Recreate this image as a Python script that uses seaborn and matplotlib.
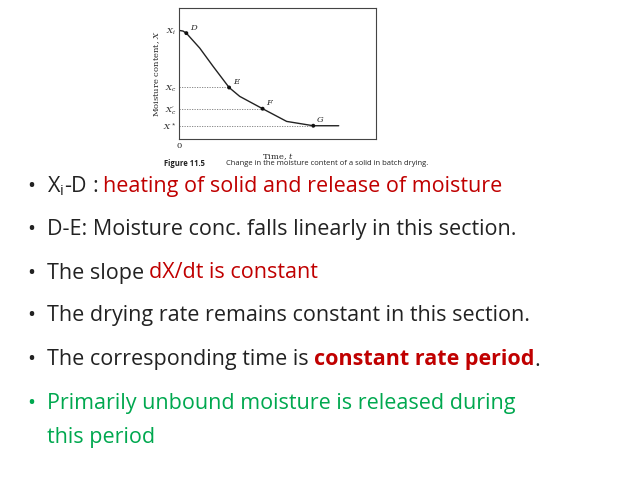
import matplotlib
matplotlib.use("Agg")
import matplotlib.pyplot as plt
import seaborn as sns
import pandas as pd

sns.set_style("white")
plt.rcParams['font.family'] = ['Open Sans', 'DejaVu Sans']
plt.rcParams['mathtext.fontset'] = 'custom'
plt.rcParams['mathtext.rm'] = 'Open Sans'
plt.rcParams['mathtext.it'] = 'DejaVu Serif:italic'

# curve (time, moisture) in relative units
curve_t = [0.0, 0.2, 0.37, 1.05, 1.73, 2.54, 3.08, 4.24, 5.46, 6.81, 8.1]
curve_x = [8.3, 8.25, 8.09, 6.95, 5.55, 3.94, 3.26, 2.32, 1.35, 1.02, 1.02]
pt_names = ['D', 'E', 'F', 'G']
pt_t = [0.37, 2.54, 4.24, 6.81]
pt_x = [8.09, 3.94, 2.32, 1.02]
ytick_vals = [8.3, 3.94, 2.32, 1.02]
ytick_labels = ['$X_i$', '$X_c$', "$X_c'$", '$X^*$']

fig = plt.figure(figsize=(6.38, 4.78), dpi=100)
ax = fig.add_axes([0.2806, 0.709, 0.309, 0.274])
df = pd.DataFrame({'t': curve_t, 'x': curve_x})
sns.lineplot(data=df, x='t', y='x', ax=ax, color='#222222', lw=1.0, sort=False)
sns.scatterplot(x=pt_t, y=pt_x, ax=ax, color='#111111', s=8, edgecolor='none', zorder=5)
for n, tt, xx in zip(pt_names, pt_t, pt_x):
    ax.text(tt + 0.2, xx + 0.25, n, fontsize=6, family='DejaVu Serif', style='italic')
for tt, xx in zip(pt_t[1:], pt_x[1:]):
    ax.plot([0, tt], [xx, xx], ls=(0, (1.5, 1.5)), color='#777777', lw=0.6)
ax.set_xlim(0, 10)
ax.set_ylim(0, 10)
ax.set_yticks(ytick_vals)
ax.set_yticklabels(ytick_labels, fontsize=6)
ax.set_xticks([0])
ax.set_xticklabels(['0'], fontsize=6, family='DejaVu Serif')
ax.tick_params(length=0, pad=2)
ax.set_xlabel('Time, $t$', fontsize=6, family='DejaVu Serif', labelpad=1)
ax.set_ylabel('Moisture content, $X$', fontsize=6, family='DejaVu Serif', labelpad=1)
for s in ax.spines.values():
    s.set_color('#444444'); s.set_linewidth(0.8)

fig.text(0.257, 0.658, 'Figure 11.5', fontsize=5.5, weight='bold', color='#222222', va='center')
fig.text(0.355, 0.658, 'Change in the moisture content of a solid in batch drying.', fontsize=5.5, color='#222222', va='center')

RED = '#C00000'; GREEN = '#00A84F'; BLK = '#222222'
lines = [
    [('X$_{\\rm i}$-D :', BLK, 'normal'), (' ', BLK, 'normal'), ('heating of solid and release of moisture', RED, 'normal')],
    [('D-E: Moisture conc. falls linearly in this section.', BLK, 'normal')],
    [('The slope', BLK, 'normal'), (' ', BLK, 'normal'), ('dX/dt is constant', RED, 'normal')],
    [('The drying rate remains constant in this section.', BLK, 'normal')],
    [('The corresponding time is', BLK, 'normal'), (' ', BLK, 'normal'), ('constant rate period', RED, 'bold'), ('.', BLK, 'normal')],
    [('Primarily unbound moisture is released during', GREEN, 'normal')],
]
ys = [186, 230, 273, 316, 360, 404]
fs = 15.5
r = fig.canvas.get_renderer()
for parts, y in zip(lines, ys):
    bc = parts[0][1]
    fig.text(27 / 638, 1 - y / 478, '•', fontsize=fs, color=bc, va='center')
    x = 47 / 638
    for s, c, w in parts:
        if s == ' ':
            x += 5 / 638
            continue
        t = fig.text(x, 1 - y / 478, s, fontsize=fs, color=c, weight=w, va='center')
        bb = t.get_window_extent(r)
        x = bb.x1 / fig.bbox.width
fig.text(47 / 638, 1 - 438 / 478, 'this period', fontsize=fs, color=GREEN, va='center')
fig.savefig('out.png', dpi=100)
